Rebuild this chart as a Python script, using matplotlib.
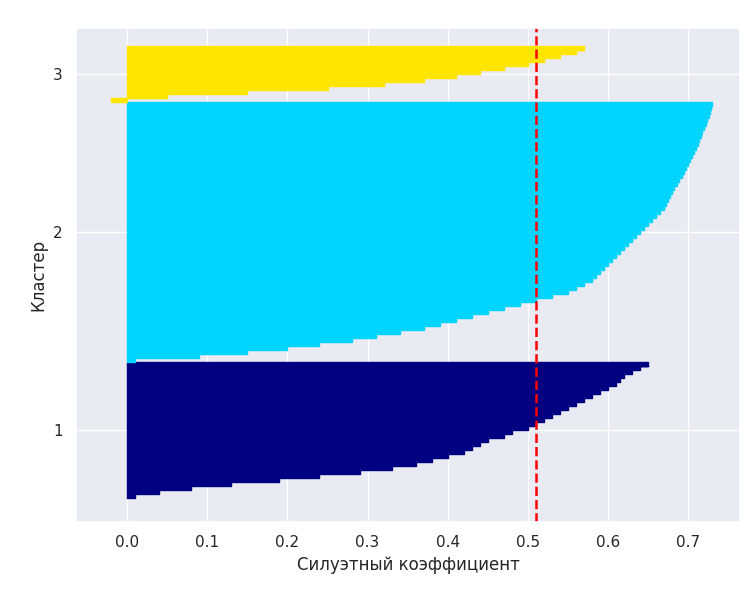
import matplotlib
matplotlib.use("Agg")
import matplotlib.pyplot as plt
import seaborn as sns
import numpy as np

sns.set_theme(style="darkgrid")

cluster_labels = ["1", "2", "3"]
colors = ["#000080", "#00D4FF", "#FFE500"]
sil_c1 = [0.01, 0.04, 0.08, 0.13, 0.19, 0.24, 0.29, 0.33, 0.36, 0.38, 0.40, 0.42,
          0.43, 0.44, 0.45, 0.47, 0.48, 0.50, 0.51, 0.52, 0.53, 0.54, 0.55, 0.56,
          0.57, 0.58, 0.59, 0.60, 0.61, 0.615, 0.62, 0.63, 0.64, 0.65]
sil_c2 = [0.01, 0.09, 0.15, 0.20, 0.24, 0.28, 0.31, 0.34, 0.37, 0.39, 0.41, 0.43,
          0.45, 0.47, 0.49, 0.51, 0.53, 0.55, 0.56, 0.57, 0.58, 0.585, 0.59, 0.595,
          0.60, 0.605, 0.61, 0.615, 0.62, 0.625, 0.63, 0.635, 0.64, 0.645, 0.65, 0.655,
          0.66, 0.665, 0.67, 0.672, 0.675, 0.678, 0.68, 0.683, 0.686, 0.689, 0.692, 0.695,
          0.698, 0.70, 0.703, 0.705, 0.708, 0.71, 0.712, 0.714, 0.716, 0.718, 0.72, 0.722,
          0.724, 0.726, 0.728, 0.729, 0.73]
sil_c3 = [-0.02, 0.05, 0.15, 0.25, 0.32, 0.37, 0.41, 0.44, 0.47, 0.50, 0.52, 0.54, 0.56, 0.57]
avg_score = 0.51

fig = plt.figure(figsize=(7.55, 5.98), dpi=100)
ax = fig.add_axes([76/755, 1-522/598, (740-76)/755, (522-28)/598])

y_lower = 0
ticks = []
for vals, col in zip([sil_c1, sil_c2, sil_c3], colors):
    v = np.sort(np.array(vals))
    n = len(v)
    y = np.arange(y_lower, y_lower + n)
    ax.fill_betweenx(y, 0, v, facecolor=col, edgecolor=col, step="post")
    ax.fill_betweenx([y_lower + n - 1, y_lower + n], 0, v[-1], facecolor=col, edgecolor=col)
    ticks.append(y_lower + n / 2)
    y_lower += n

ax.axvline(avg_score, color="red", linestyle="--", linewidth=1.8)
ax.set_yticks(ticks)
ax.set_yticklabels(cluster_labels)
ax.set_xticks(np.arange(0, 0.71, 0.1))
ax.set_xlim(-0.064, 0.765)
ax.set_ylim(-6, 117.5)
ax.set_xlabel("Силуэтный коэффициент", fontsize=12)
ax.set_ylabel("Кластер", fontsize=12)
fig.savefig("out.png", dpi=100)
